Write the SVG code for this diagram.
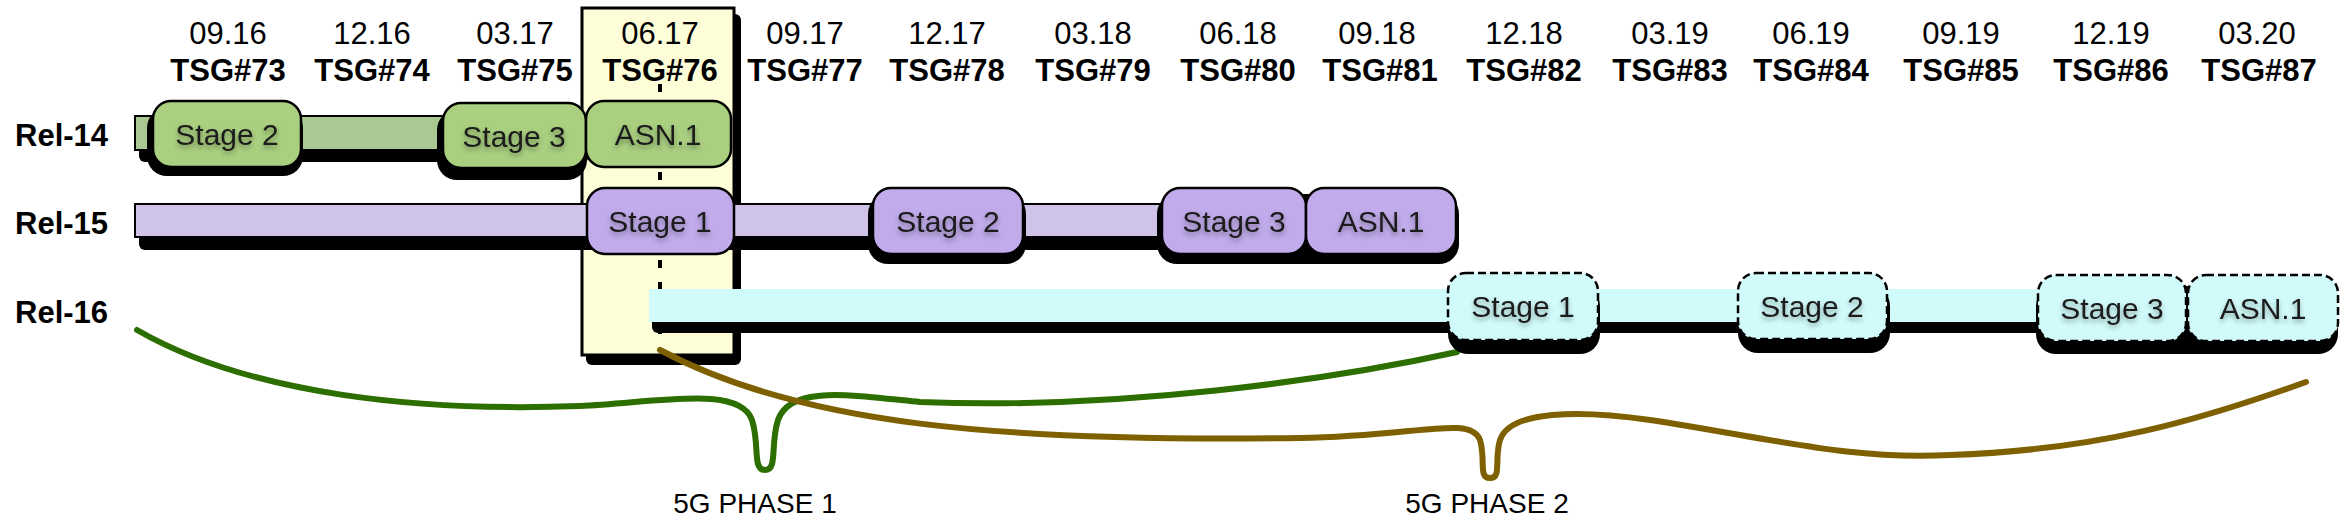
<svg xmlns="http://www.w3.org/2000/svg" width="2341" height="528" viewBox="0 0 2341 528">
<defs>
<style>
.d{font-family:"Liberation Sans",Arial,sans-serif;font-size:31px;text-anchor:middle;fill:#000}
.t{font-family:"Liberation Sans",Arial,sans-serif;font-size:31px;font-weight:bold;text-anchor:middle;fill:#000}
.r{font-family:"Liberation Sans",Arial,sans-serif;font-size:31px;font-weight:bold;fill:#000}
.b{font-family:"Liberation Sans",Arial,sans-serif;font-size:30px;text-anchor:middle;fill:#1a1a1a;filter:url(#ts)}
.p{font-family:"Liberation Sans",Arial,sans-serif;font-size:28px;text-anchor:middle;fill:#000}
.g{fill:#a9cf7f;stroke:#000;stroke-width:2.5}
.v{fill:#c1abeb;stroke:#000;stroke-width:2.5}
.c{fill:#d1fbfb;stroke:#000;stroke-width:2.5;stroke-dasharray:8 4}
.sh{fill:#000}
</style>
<filter id="ts" x="-10%" y="-30%" width="120%" height="160%"><feDropShadow dx="0" dy="3" stdDeviation="2.5" flood-color="#000" flood-opacity="0.35"/></filter>
</defs>
<g id="highlight">
<rect x="586" y="14" width="155" height="351" rx="6" class="sh"/>
<rect x="582" y="8" width="152" height="347" fill="#fdfdd8" stroke="#000" stroke-width="3"/>
<line x1="660" y1="84" x2="660" y2="350" stroke="#000" stroke-width="4" stroke-dasharray="8 14"/>
</g>
<g id="header">
<text class="d" x="228" y="44">09.16</text><text class="t" x="228" y="81">TSG#73</text>
<text class="d" x="372" y="44">12.16</text><text class="t" x="372" y="81">TSG#74</text>
<text class="d" x="515" y="44">03.17</text><text class="t" x="515" y="81">TSG#75</text>
<text class="d" x="660" y="44">06.17</text><text class="t" x="660" y="81">TSG#76</text>
<text class="d" x="805" y="44">09.17</text><text class="t" x="805" y="81">TSG#77</text>
<text class="d" x="947" y="44">12.17</text><text class="t" x="947" y="81">TSG#78</text>
<text class="d" x="1093" y="44">03.18</text><text class="t" x="1093" y="81">TSG#79</text>
<text class="d" x="1238" y="44">06.18</text><text class="t" x="1238" y="81">TSG#80</text>
<text class="d" x="1377" y="44">09.18</text><text class="t" x="1380" y="81">TSG#81</text>
<text class="d" x="1524" y="44">12.18</text><text class="t" x="1524" y="81">TSG#82</text>
<text class="d" x="1670" y="44">03.19</text><text class="t" x="1670" y="81">TSG#83</text>
<text class="d" x="1811" y="44">06.19</text><text class="t" x="1811" y="81">TSG#84</text>
<text class="d" x="1961" y="44">09.19</text><text class="t" x="1961" y="81">TSG#85</text>
<text class="d" x="2111" y="44">12.19</text><text class="t" x="2111" y="81">TSG#86</text>
<text class="d" x="2257" y="44">03.20</text><text class="t" x="2259" y="81">TSG#87</text>
<text class="r" x="15" y="146">Rel-14</text>
<text class="r" x="15" y="234">Rel-15</text>
<text class="r" x="15" y="323">Rel-16</text>
</g>
<g id="connectors" fill="none" stroke-width="6" stroke-linecap="round">
<path stroke="#2d6e00" d="M137,330 C250,395 420,412 580,406 C660,402 740,385 752,420 C760,445 752,470 765,470 C778,470 770,445 778,420 C790,385 850,395 920,402 C1120,410 1330,380 1457,352"/>
<path stroke="#7e6000" d="M660,350 C800,425 1000,442 1300,438 C1420,436 1470,415 1480,440 C1486,460 1478,478 1490,478 C1502,478 1494,460 1500,440 C1510,410 1580,410 1650,420 C1780,440 1850,460 1950,455 C2100,450 2200,420 2306,382"/>
</g>
<g id="rel14">
<rect x="139" y="122" width="450" height="40" rx="6" class="sh"/>
<rect x="135" y="116" width="450" height="34" fill="#abc893" stroke="#000" stroke-width="2"/>
</g>
<g id="rel15">
<rect x="139" y="210" width="1320" height="40" rx="6" class="sh"/>
<rect x="135" y="204" width="1320" height="33" fill="#cfc3e8" stroke="#000" stroke-width="2"/>
</g>
<g id="rel16">
<rect x="652" y="296" width="1684" height="37" rx="6" class="sh"/>
<rect x="649" y="289" width="1687" height="33" fill="#d1fbfb"/>
</g>
<g id="r14-stage2"><rect x="147" y="108" width="156" height="68" rx="20" class="sh"/><rect x="153" y="101" width="148" height="66" rx="18" class="g"/><text class="b" x="227" y="145">Stage 2</text></g>
<g id="r14-stage3"><rect x="437" y="110" width="150" height="70" rx="20" class="sh"/><rect x="443" y="103" width="143" height="65" rx="18" class="g"/><text class="b" x="514" y="147">Stage 3</text></g>
<g id="r14-asn1"><rect x="586" y="101" width="145" height="66" rx="18" class="g"/><text class="b" x="658" y="145">ASN.1</text></g>
<g id="r15-stage1"><rect x="587" y="188" width="147" height="66" rx="18" class="v"/><text class="b" x="660" y="232">Stage 1</text></g>
<g id="r15-stage2"><rect x="868" y="194" width="158" height="70" rx="20" class="sh"/><rect x="873" y="188" width="150" height="66" rx="18" class="v"/><text class="b" x="948" y="232">Stage 2</text></g>
<g id="r15-stage3"><rect x="1157" y="194" width="302" height="70" rx="20" class="sh"/><rect x="1162" y="188" width="144" height="66" rx="18" class="v"/><text class="b" x="1234" y="232">Stage 3</text></g>
<g id="r15-asn1"><rect x="1306" y="188" width="150" height="66" rx="18" class="v"/><text class="b" x="1381" y="232">ASN.1</text></g>
<g id="r16-stage1"><rect x="1448" y="286" width="152" height="68" rx="20" class="sh"/><rect x="1448" y="273" width="150" height="67" rx="18" class="c"/><text class="b" x="1523" y="317">Stage 1</text></g>
<g id="r16-stage2"><rect x="1738" y="286" width="152" height="67" rx="20" class="sh"/><rect x="1738" y="273" width="149" height="66" rx="18" class="c"/><text class="b" x="1812" y="317">Stage 2</text></g>
<g id="r16-stage3"><rect x="2036" y="286" width="302" height="68" rx="20" class="sh"/><rect x="2038" y="275" width="148" height="66" rx="18" class="c"/><text class="b" x="2112" y="319">Stage 3</text></g>
<g id="r16-asn1"><rect x="2188" y="275" width="150" height="66" rx="18" class="c"/><text class="b" x="2263" y="319">ASN.1</text></g>
<g id="labels">
<text class="p" x="755" y="513">5G PHASE 1</text>
<text class="p" x="1487" y="513">5G PHASE 2</text>
</g>
</svg>
